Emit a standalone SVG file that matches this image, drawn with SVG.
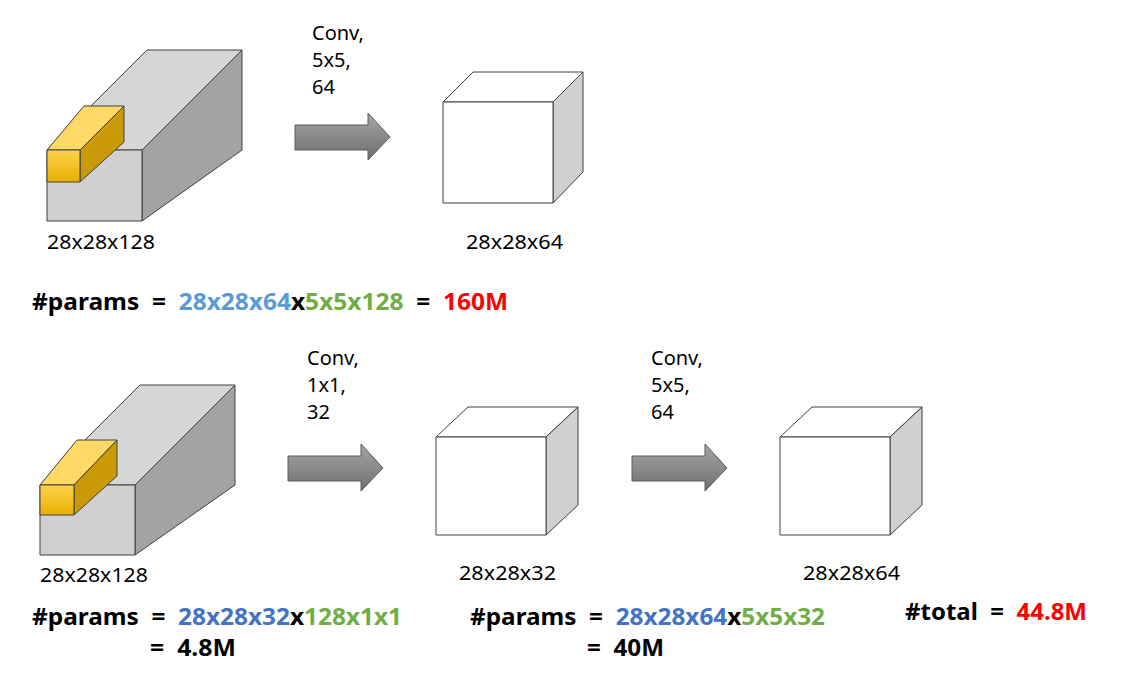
<svg xmlns="http://www.w3.org/2000/svg" width="1123" height="679" viewBox="0 0 1123 679">
<defs>
<linearGradient id="ag" x1="0" y1="0" x2="0" y2="1"><stop offset="0" stop-color="#a6a6a6"/><stop offset="1" stop-color="#6e6e6e"/></linearGradient>
<linearGradient id="yf" x1="0" y1="0" x2="0" y2="1"><stop offset="0" stop-color="#ffd24d"/><stop offset="1" stop-color="#e6b000"/></linearGradient>
<style>
.e{stroke:#404040;stroke-width:1;stroke-linejoin:round}
.gf{fill:#d0d0d0}.gt{fill:#d6d6d6}.gr{fill:#a3a3a3}
.yf{fill:url(#yf)}.yt{fill:#ffd966}.yr{fill:#c99a06}
.wf{fill:#fff}.wr{fill:#d0d0d0}
.ar{fill:url(#ag);stroke:#5a5a5a;stroke-width:1}
text{font-family:"Noto Sans","Noto Sans CJK KR",sans-serif;font-size:20px;fill:#000}
.b{font-weight:bold;font-size:23px}
.bl{fill:#5b9bd5}.bl2{fill:#4472c4}.gn{fill:#70ad47}.rd{fill:#ff0000}
</style>
</defs>
<g id="input1">
<polygon class="e gt" points="47,150 147,50 242,50 142,150"/>
<polygon class="e gr" points="142,150 242,50 242,150 142,221"/>
<polygon class="e gf" points="47,150 142,150 142,221 47,221"/>
<polygon class="e yt" points="47,150 84,106 124,106 80,150"/>
<polygon class="e yr" points="80,150 124,106 124,142 80,182"/>
<polygon class="e yf" points="47,150 80,150 80,182 47,182"/>
</g>
<g id="output1">
<polygon class="e wf" points="443,102 473,72 583,72 553,102"/>
<polygon class="e wr" points="553,102 583,72 583,172 553,203"/>
<rect class="e wf" x="443" y="102" width="110" height="101"/>
</g>
<g id="input2">
<polygon class="e gt" points="40,485 140,385 235,385 135,485"/>
<polygon class="e gr" points="135,485 235,385 235,485 135,555"/>
<polygon class="e gf" points="40,485 135,485 135,555 40,555"/>
<polygon class="e yt" points="40,485 77,440 117,440 74,485"/>
<polygon class="e yr" points="74,485 117,440 117,476 74,515"/>
<polygon class="e yf" points="40,485 74,485 74,515 40,515"/>
</g>
<g id="mid2">
<polygon class="e wf" points="436,437 468,407 578,407 546,437"/>
<polygon class="e wr" points="546,437 578,407 578,505 546,535"/>
<rect class="e wf" x="436" y="437" width="110" height="98"/>
</g>
<g id="output2">
<polygon class="e wf" points="780,437 812,407 922,407 890,437"/>
<polygon class="e wr" points="890,437 922,407 922,505 890,535"/>
<rect class="e wf" x="780" y="437" width="110" height="98"/>
</g>
<g id="connectors">
<polygon class="ar" points="295,125 368,125 368,113 390,137 368,160 368,150 295,150"/>
<polygon class="ar" points="288,456 361,456 361,444 383,468 361,491 361,481 288,481"/>
<polygon class="ar" points="632,456 705,456 705,444 727,468 705,491 705,481 632,481"/>
</g>
<g id="labels">
<text x="47" y="249" textLength="108" lengthAdjust="spacingAndGlyphs">28x28x128</text>
<text x="466" y="249" textLength="97" lengthAdjust="spacingAndGlyphs">28x28x64</text>
<text x="312" y="40">Conv,</text><text x="312" y="67">5x5,</text><text x="312" y="94">64</text>
<text x="40" y="582" textLength="108" lengthAdjust="spacingAndGlyphs">28x28x128</text>
<text x="459" y="580" textLength="97" lengthAdjust="spacingAndGlyphs">28x28x32</text>
<text x="803" y="580" textLength="97" lengthAdjust="spacingAndGlyphs">28x28x64</text>
<text x="307" y="365">Conv,</text><text x="307" y="392">1x1,</text><text x="307" y="419">32</text>
<text x="651" y="365">Conv,</text><text x="651" y="392">5x5,</text><text x="651" y="419">64</text>
<text class="b" x="32" y="310" xml:space="preserve" textLength="476" lengthAdjust="spacingAndGlyphs">#params  =  <tspan class="bl">28x28x64</tspan>x<tspan class="gn">5x5x128</tspan>  =  <tspan class="rd">160M</tspan></text>
<text class="b" x="32" y="625" xml:space="preserve" textLength="370" lengthAdjust="spacingAndGlyphs">#params  =  <tspan class="bl2">28x28x32</tspan>x<tspan class="gn">128x1x1</tspan></text>
<text class="b" x="150" y="656" xml:space="preserve" textLength="86" lengthAdjust="spacingAndGlyphs">=  4.8M</text>
<text class="b" x="470" y="625" xml:space="preserve" textLength="355" lengthAdjust="spacingAndGlyphs">#params  =  <tspan class="bl2">28x28x64</tspan>x<tspan class="gn">5x5x32</tspan></text>
<text class="b" x="587" y="656" xml:space="preserve" textLength="77" lengthAdjust="spacingAndGlyphs">=  40M</text>
<text class="b" x="905" y="620" xml:space="preserve" textLength="182" lengthAdjust="spacingAndGlyphs">#total  =  <tspan class="rd">44.8M</tspan></text>
</g>
</svg>
